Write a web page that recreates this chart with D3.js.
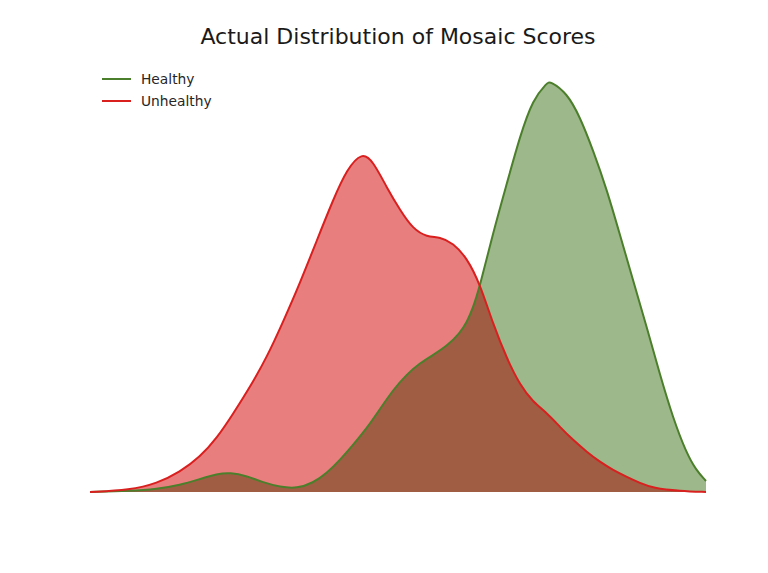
<!DOCTYPE html>
<html>
<head>
<meta charset="utf-8">
<script src="https://cdn.jsdelivr.net/npm/d3@7"></script>
<style>
  body { margin: 0; background: #ffffff; }
  svg { display: block; }
</style>
</head>
<body>
<svg id="chart" width="768" height="573"></svg>
<script>
// ---- data (score vs. estimated density) ----
const titleText = "Actual Distribution of Mosaic Scores";
const seriesNames = ["Healthy", "Unhealthy"];

const healthyX = [0, 0.40, 0.67, 0.90, 1.10, 1.27, 1.40, 1.57, 1.73, 1.90, 2.07, 2.23, 2.37, 2.50, 2.63, 2.77, 2.90, 3.03, 3.17, 3.30, 3.43, 3.57, 3.70, 3.77, 3.83, 3.90, 4.03, 4.17, 4.30, 4.43, 4.57, 4.60, 4.77, 4.90, 5.03, 5.17, 5.30, 5.43, 5.57, 5.70, 5.83, 5.96, 6.06, 6.16];
const healthyY = [0, 0.01, 0.03, 0.07, 0.13, 0.18, 0.195, 0.16, 0.095, 0.05, 0.035, 0.09, 0.19, 0.32, 0.47, 0.64, 0.83, 1.02, 1.18, 1.29, 1.37, 1.46, 1.59, 1.70, 1.84, 2.06, 2.59, 3.09, 3.56, 3.93, 4.09, 4.11, 3.99, 3.75, 3.42, 3.02, 2.57, 2.12, 1.64, 1.17, 0.74, 0.40, 0.22, 0.11];

const unhealthyX = [0, 0.40, 0.67, 0.90, 1.10, 1.27, 1.43, 1.60, 1.77, 1.93, 2.10, 2.27, 2.43, 2.57, 2.72, 2.83, 2.97, 3.10, 3.23, 3.37, 3.50, 3.63, 3.77, 3.90, 4.03, 4.17, 4.30, 4.43, 4.57, 4.70, 4.83, 4.97, 5.10, 5.23, 5.37, 5.50, 5.63, 5.90, 6.16];
const unhealthyY = [0, 0.02, 0.085, 0.20, 0.35, 0.54, 0.78, 1.05, 1.35, 1.70, 2.09, 2.52, 2.92, 3.23, 3.40, 3.31, 3.04, 2.82, 2.63, 2.55, 2.55, 2.49, 2.34, 2.08, 1.68, 1.33, 1.07, 0.90, 0.79, 0.65, 0.52, 0.40, 0.30, 0.22, 0.15, 0.09, 0.04, 0.01, 0];

const xDomain = [0, 6.16];
const yDomain = [0, 4.2];

// ---- layout ----
const svg = d3.select("#chart");
const plot = { left: 90, right: 706, top: 72, bottom: 492 };

const x = d3.scaleLinear().domain(xDomain).range([plot.left, plot.right]);
const y = d3.scaleLinear().domain(yDomain).range([plot.bottom, plot.top]);

const healthy = healthyX.map((v, i) => [v, healthyY[i]]);
const unhealthy = unhealthyX.map((v, i) => [v, unhealthyY[i]]);

const curve = d3.curveBasis;
const area = d3.area().x(d => x(d[0])).y0(y(0)).y1(d => y(d[1])).curve(curve);
const line = d3.line().x(d => x(d[0])).y(d => y(d[1])).curve(curve);

const colors = {
  healthyLine: "#4c7f2b", healthyFill: "#9db88a",
  unhealthyLine: "#d9201f", unhealthyFill: "#e87e7e",
  overlap: "#a15d44"
};

const defs = svg.append("defs");
defs.append("clipPath").attr("id", "clipUnhealthy")
  .append("path").attr("d", area(unhealthy));

// fills
svg.append("path").attr("d", area(unhealthy)).attr("fill", colors.unhealthyFill);
svg.append("path").attr("d", area(healthy)).attr("fill", colors.healthyFill);
svg.append("path").attr("d", area(healthy)).attr("fill", colors.overlap)
  .attr("clip-path", "url(#clipUnhealthy)");

// outlines
svg.append("path").attr("d", line(healthy)).attr("fill", "none")
  .attr("stroke", colors.healthyLine).attr("stroke-width", 2);
svg.append("path").attr("d", line(unhealthy)).attr("fill", "none")
  .attr("stroke", colors.unhealthyLine).attr("stroke-width", 2);

// title
svg.append("text")
  .attr("x", (plot.left + plot.right) / 2)
  .attr("y", 44)
  .attr("text-anchor", "middle")
  .attr("font-family", "DejaVu Sans")
  .attr("font-size", "22px")
  .attr("fill", "#1a1a1a")
  .text(titleText);

// legend
const legendColors = [colors.healthyLine, colors.unhealthyLine];
const lg = svg.append("g");
seriesNames.forEach((name, i) => {
  const yy = 79 + i * 22;
  lg.append("line").attr("x1", 102).attr("x2", 131).attr("y1", yy).attr("y2", yy)
    .attr("stroke", legendColors[i]).attr("stroke-width", 2);
  lg.append("text").attr("x", 141).attr("y", yy + 5)
    .attr("font-family", "DejaVu Sans").attr("font-size", "13.8px")
    .attr("fill", "#262626").text(name);
});
</script>
</body>
</html>
